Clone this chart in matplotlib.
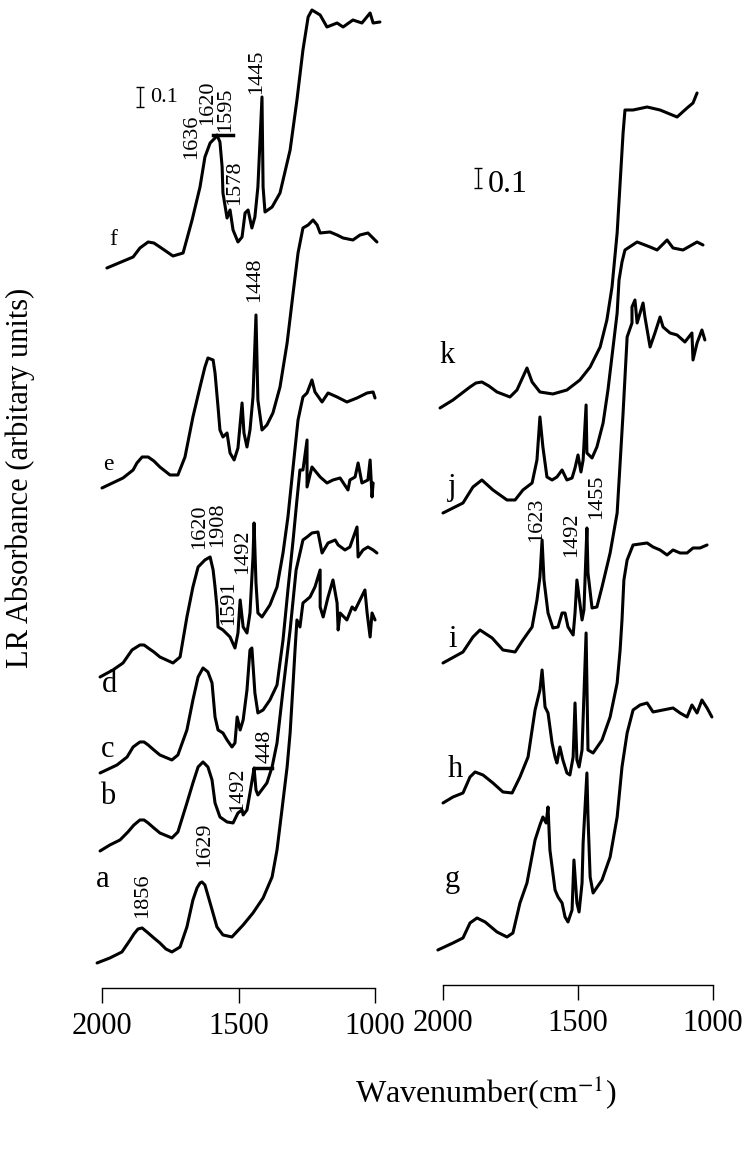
import matplotlib.pyplot as plt

plt.rcParams['font.family'] = ['Liberation Serif', 'DejaVu Serif']
plt.rcParams['mathtext.fontset'] = 'stix'

# Left panel spectra (wavenumber in cm-1, stacked absorbance)
a_wn = [2018, 1971, 1927, 1897, 1883, 1868, 1853, 1831, 1810, 1788, 1766, 1744, 1714, 1689,
        1667, 1652, 1641, 1634, 1623, 1604, 1579, 1557, 1524, 1483, 1447, 1410,
        1377, 1359, 1341, 1322, 1311, 1300, 1293, 1286, 1275, 1264,
        1238, 1220, 1201, 1201, 1190, 1172, 1154, 1139, 1135, 1128,
        1103, 1084, 1073, 1055, 1037, 1029, 1018, 1011, 1000]
a_abs = [0.185, 0.21, 0.24, 0.30, 0.33, 0.355, 0.36, 0.335, 0.31, 0.285, 0.255, 0.24, 0.265, 0.365,
         0.50, 0.56, 0.585, 0.59, 0.575, 0.485, 0.365, 0.325, 0.315, 0.375, 0.435, 0.51,
         0.615, 0.75, 0.95, 1.165, 1.335, 1.585, 1.75, 1.90, 1.865, 1.985,
         2.015, 2.065, 2.15, 1.965, 1.915, 2.015, 2.10, 1.985, 1.85, 1.935,
         1.90, 1.965, 1.95, 2.00, 2.05, 1.935, 1.815, 1.935, 1.90]

b_wn = [2007, 1971, 1934, 1905, 1883, 1861, 1846, 1831, 1810, 1788, 1744, 1722, 1689,
        1667, 1648, 1630, 1612, 1597, 1586, 1568, 1542, 1520, 1502,
        1487, 1483, 1469, 1458, 1447, 1443, 1436, 1429, 1396, 1377,
        1359, 1337, 1311, 1289, 1264, 1249, 1231, 1209, 1194, 1172,
        1146, 1135, 1110, 1092, 1066, 1062, 1044, 1026, 1007, 993]
b_abs = [0.745, 0.775, 0.80, 0.84, 0.875, 0.90, 0.90, 0.885, 0.86, 0.835, 0.81, 0.84, 0.985,
         1.085, 1.165, 1.19, 1.165, 1.10, 0.985, 0.915, 0.89, 0.885, 0.935,
         0.95, 0.925, 0.95, 1.035, 1.125, 1.16, 1.05, 1.025, 1.085, 1.165,
         1.285, 1.55, 1.85, 2.15, 2.30, 2.315, 2.335, 2.34, 2.235, 2.285,
         2.30, 2.275, 2.25, 2.265, 2.365, 2.215, 2.25, 2.265, 2.25, 2.235]

c_wn = [2007, 1945, 1908, 1886, 1861, 1846, 1831, 1810, 1788, 1744, 1722, 1689,
        1667, 1648, 1630, 1612, 1597, 1586, 1575, 1557, 1542, 1524,
        1513, 1505, 1494, 1483, 1469, 1458, 1451, 1440, 1429, 1410,
        1385, 1359, 1337, 1319, 1300, 1286, 1275, 1264, 1249, 1249,
        1231, 1201, 1176, 1154, 1128, 1099, 1092, 1073, 1062, 1048,
        1026, 1018, 1011, 1007]
c_abs = [1.135, 1.175, 1.215, 1.265, 1.29, 1.29, 1.275, 1.25, 1.225, 1.20, 1.225, 1.35,
         1.50, 1.615, 1.66, 1.64, 1.585, 1.415, 1.35, 1.335, 1.30, 1.265,
         1.285, 1.415, 1.35, 1.40, 1.55, 1.75, 1.76, 1.535, 1.435, 1.45,
         1.50, 1.575, 1.80, 2.05, 2.30, 2.50, 2.65, 2.65, 2.80, 2.565,
         2.665, 2.615, 2.585, 2.60, 2.61, 2.55, 2.60, 2.615, 2.685, 2.585,
         2.60, 2.70, 2.515, 2.585]

d_wn = [2007, 1960, 1923, 1890, 1861, 1846, 1831, 1810, 1788, 1740, 1714, 1689,
        1667, 1648, 1623, 1604, 1593, 1586, 1579, 1575, 1557, 1531,
        1513, 1502, 1494, 1483, 1469, 1458, 1447, 1443, 1436, 1429,
        1414, 1385, 1359, 1337, 1319, 1300, 1282, 1264, 1249, 1231,
        1220, 1194, 1172, 1139, 1103, 1066, 1029, 1007, 1000]
d_abs = [1.615, 1.65, 1.685, 1.75, 1.775, 1.775, 1.76, 1.74, 1.715, 1.685, 1.715, 1.915,
         2.065, 2.165, 2.20, 2.215, 2.15, 2.065, 1.965, 1.865, 1.85, 1.815,
         1.76, 1.835, 2.00, 1.865, 1.835, 1.935, 2.215, 2.385, 2.085, 1.935,
         1.915, 1.975, 2.065, 2.235, 2.415, 2.665, 2.90, 3.015, 3.035, 3.10,
         3.04, 2.99, 3.035, 3.015, 2.99, 3.01, 3.035, 3.04, 3.01]

e_wn = [2000, 1923, 1886, 1872, 1853, 1831, 1810, 1788, 1751, 1722, 1696, 1667,
        1641, 1623, 1612, 1593, 1586, 1575, 1568, 1557, 1542, 1531,
        1516, 1502, 1487, 1480, 1469, 1458, 1447, 1436, 1429, 1414,
        1396, 1374, 1348, 1322, 1300, 1282, 1264, 1245, 1227, 1212,
        1201, 1165, 1139, 1117, 1081, 1055, 1026, 993]
e_abs = [2.56, 2.61, 2.65, 2.685, 2.715, 2.715, 2.695, 2.665, 2.625, 2.625, 2.715, 2.915,
         3.065, 3.165, 3.21, 3.20, 3.135, 2.965, 2.85, 2.815, 2.835, 2.735,
         2.70, 2.76, 2.985, 2.835, 2.765, 2.85, 3.015, 3.425, 3.00, 2.85,
         2.875, 2.935, 3.065, 3.285, 3.535, 3.735, 3.86, 3.875, 3.90, 3.875,
         3.835, 3.84, 3.825, 3.81, 3.80, 3.825, 3.835, 3.79]

f_wn = [1982, 1886, 1861, 1831, 1810, 1788, 1740, 1703, 1670, 1641, 1623, 1604,
        1586, 1579, 1568, 1560, 1557, 1542, 1531, 1520, 1502, 1487,
        1476, 1465, 1451, 1440, 1429, 1414, 1410, 1403, 1377, 1348,
        1311, 1286, 1264, 1245, 1231, 1201, 1176, 1139, 1117, 1081,
        1048, 1018, 1007, 982]
f_abs = [3.66, 3.715, 3.76, 3.79, 3.785, 3.765, 3.72, 3.735, 3.90, 4.065, 4.215, 4.285,
         4.31, 4.325, 4.29, 4.165, 4.035, 3.91, 3.95, 3.85, 3.79, 3.815,
         3.935, 3.95, 3.86, 3.915, 4.065, 4.515, 4.065, 3.94, 3.965, 4.035,
         4.25, 4.50, 4.75, 4.915, 4.95, 4.925, 4.865, 4.885, 4.865, 4.90,
         4.885, 4.935, 4.885, 4.89]

# Right panel spectra
g_wn = [2019, 1963, 1926, 1900, 1874, 1844, 1800, 1763, 1741, 1715,
        1689, 1659, 1641, 1630, 1618, 1611, 1604, 1585, 1574, 1559,
        1548, 1537, 1522, 1515, 1504, 1496, 1485, 1481, 1467, 1463,
        1455, 1444, 1411, 1381, 1355, 1337, 1318, 1296, 1270, 1244,
        1222, 1185, 1148, 1122, 1096, 1078, 1059, 1041, 1022, 1004]
g_abs = [0.25, 0.285, 0.31, 0.385, 0.41, 0.39, 0.34, 0.315, 0.335, 0.485,
         0.585, 0.80, 0.875, 0.915, 0.885, 0.965, 0.75, 0.55, 0.515, 0.485,
         0.415, 0.39, 0.45, 0.70, 0.485, 0.44, 0.585, 0.785, 1.135, 0.915,
         0.615, 0.535, 0.60, 0.715, 0.915, 1.165, 1.335, 1.45, 1.475, 1.485,
         1.44, 1.45, 1.46, 1.435, 1.415, 1.475, 1.435, 1.50, 1.46, 1.415]

h_wn = [2000, 1963, 1926, 1900, 1881, 1852, 1815, 1778, 1744, 1715,
        1685, 1659, 1641, 1633, 1622, 1611, 1596, 1585, 1578, 1567,
        1556, 1541, 1530, 1518, 1511, 1504, 1496, 1485, 1470, 1463,
        1444, 1411, 1381, 1355, 1344, 1337, 1330, 1318, 1296, 1244,
        1222, 1196, 1170, 1148, 1122, 1096, 1074, 1048, 1022]
h_abs = [0.985, 1.015, 1.035, 1.115, 1.14, 1.125, 1.085, 1.04, 1.035, 1.115,
         1.215, 1.45, 1.55, 1.65, 1.465, 1.435, 1.285, 1.215, 1.185, 1.265,
         1.20, 1.135, 1.125, 1.215, 1.485, 1.20, 1.165, 1.25, 1.835, 1.25,
         1.235, 1.30, 1.415, 1.585, 1.75, 1.90, 2.10, 2.20, 2.275, 2.285,
         2.265, 2.25, 2.225, 2.25, 2.235, 2.235, 2.26, 2.26, 2.275]

i_wn = [2000, 1926, 1889, 1863, 1818, 1778, 1733, 1704, 1670, 1652,
        1641, 1633, 1626, 1611, 1593, 1574, 1559, 1548, 1537, 1518,
        1511, 1504, 1496, 1485, 1478, 1467, 1463, 1448, 1430, 1411,
        1381, 1355, 1344, 1333, 1318, 1300, 1300, 1289, 1281, 1259,
        1252, 1233, 1215, 1196, 1185, 1159, 1133, 1104, 1078, 1074,
        1059, 1041, 1030]
i_abs = [1.685, 1.74, 1.815, 1.85, 1.81, 1.75, 1.74, 1.80, 1.865, 2.00,
         2.115, 2.30, 2.10, 1.935, 1.86, 1.865, 1.935, 1.935, 1.865, 1.825,
         1.935, 2.10, 2.015, 1.90, 1.95, 2.36, 2.135, 1.96, 1.965, 2.065,
         2.235, 2.435, 2.685, 2.935, 3.315, 3.385, 3.465, 3.50, 3.385, 3.485,
         3.415, 3.265, 3.335, 3.415, 3.365, 3.335, 3.325, 3.29, 3.335, 3.20,
         3.285, 3.35, 3.30]

j_wn = [2000, 1926, 1889, 1856, 1815, 1763, 1733, 1704, 1670, 1652,
        1641, 1630, 1615, 1596, 1578, 1559, 1541, 1522, 1511, 1500,
        1489, 1481, 1470, 1467, 1448, 1430, 1407, 1389, 1370, 1355,
        1348, 1337, 1326, 1281, 1233, 1207, 1170, 1148, 1111, 1059,
        1037]
j_abs = [2.435, 2.485, 2.565, 2.60, 2.55, 2.50, 2.50, 2.55, 2.585, 2.70,
         2.915, 2.765, 2.615, 2.60, 2.615, 2.65, 2.60, 2.61, 2.66, 2.725,
         2.64, 2.70, 2.975, 2.735, 2.71, 2.765, 2.885, 3.05, 3.265, 3.435,
         3.60, 3.69, 3.75, 3.79, 3.765, 3.75, 3.80, 3.76, 3.75, 3.79,
         3.775]

k_wn = [2011, 1963, 1900, 1878, 1856, 1830, 1800, 1752, 1726, 1689, 1670, 1641,
        1593, 1541, 1493, 1455, 1418, 1393, 1374, 1355, 1344, 1333,
        1326, 1296, 1244, 1196, 1133, 1096, 1074, 1059]
k_abs = [2.96, 3.00, 3.065, 3.085, 3.09, 3.07, 3.04, 3.015, 3.05, 3.16, 3.09, 3.04,
         3.03, 3.05, 3.10, 3.165, 3.265, 3.40, 3.565, 3.835, 4.085, 4.335,
         4.45, 4.45, 4.465, 4.45, 4.415, 4.46, 4.485, 4.535]

# Curve letters: (label, wavenumber, absorbance, fontsize)
left_letters = [('a', 1996, 0.60, 22), ('b', 1978, 1.015, 22), ('c', 1978, 1.25, 22),
                ('d', 1971, 1.575, 22), ('e', 1978, 2.675, 17), ('f', 1960, 3.80, 17)]
right_letters = [('g', 1967, 0.60, 22), ('h', 1956, 1.15, 22), ('i', 1963, 1.80, 22),
                 ('j', 1967, 2.56, 22), ('k', 1985, 3.22, 22)]

# Peak annotations (rotated)
left_peaks = [('1856', 1853, 0.52), ('1629', 1623, 0.775), ('1492', 1505, 1.05),
              ('448', 1403, 1.27), ('1620', 1641, 2.365), ('1908', 1575, 2.375),
              ('1492', 1484, 2.24), ('1591', 1538, 1.985), ('1448', 1440, 3.60),
              ('1445', 1432, 4.64), ('1620', 1612, 4.485), ('1595', 1549, 4.45),
              ('1636', 1670, 4.315), ('1578', 1513, 4.085)]
right_peaks = [('1623', 1652, 2.40), ('1492', 1522, 2.325), ('1455', 1430, 2.515)]


def style_axis(ax, ymin):
    ax.set_xlim(2020, 970)
    ax.set_ylim(ymin, 5.0)
    for side in ['top', 'right', 'left']:
        ax.spines[side].set_visible(False)
    ax.spines['bottom'].set_bounds(2000, 1000)
    ax.spines['bottom'].set_linewidth(1.0)
    ax.set_yticks([])
    ax.set_xticks([2000, 1500, 1000])
    ax.set_xticklabels(['2000', '1500', '1000'])
    ax.tick_params(axis='x', direction='out', length=11, width=1.0, labelsize=22, pad=6)
    ax.patch.set_visible(False)


def draw_curve(ax, wn, ab):
    ax.plot(wn, ab, color='black', lw=2.2, solid_joinstyle='round',
            solid_capstyle='round', clip_on=False)


fig = plt.figure(figsize=(7.46, 11.5), dpi=100)
ax1 = fig.add_axes([0.1294, 0.1409, 0.3843, 0.8591])
ax2 = fig.add_axes([0.5866, 0.1435, 0.3800, 0.8565])

style_axis(ax1, 0.06)
style_axis(ax2, 0.075)

# Left panel
for wn, ab in [(a_wn, a_abs), (b_wn, b_abs), (c_wn, c_abs),
               (d_wn, d_abs), (e_wn, e_abs), (f_wn, f_abs)]:
    draw_curve(ax1, wn, ab)

# small marker bars used for the peak labels
ax1.plot([1593, 1520], [4.325, 4.325], color='black', lw=2.5)
ax1.plot([1440, 1377], [1.16, 1.16], color='black', lw=2.5)

for lab, x, y, fs in left_letters:
    ax1.text(x, y, lab, fontsize=fs, ha='center', va='center')
for lab, x, y in left_peaks:
    ax1.text(x, y, lab, fontsize=16, rotation=90, ha='center', va='center')

# scale bar
ax1.errorbar([1861], [4.515], yerr=0.05, color='black', lw=1.0, capsize=3, capthick=1.0)
ax1.text(1824, 4.51, '0.1', fontsize=16, ha='left', va='center')

# Right panel
for wn, ab in [(g_wn, g_abs), (h_wn, h_abs), (i_wn, i_abs),
               (j_wn, j_abs), (k_wn, k_abs)]:
    draw_curve(ax2, wn, ab)

for lab, x, y, fs in right_letters:
    ax2.text(x, y, lab, fontsize=fs, ha='center', va='center')
for lab, x, y in right_peaks:
    ax2.text(x, y, lab, fontsize=16, rotation=90, ha='center', va='center')

ax2.errorbar([1870], [4.11], yerr=0.05, color='black', lw=1.0, capsize=3, capthick=1.0)
ax2.text(1833, 4.075, '0.1', fontsize=23, ha='left', va='center')

# axis titles
fig.text(0.0268, 0.5843, 'LR Absorbance (arbitary units)', fontsize=22,
         rotation=90, ha='center', va='center')
fig.text(0.6515, 0.0504, r'Wavenumber(cm$^{-1}$)', fontsize=23, ha='center', va='center')

fig.savefig('out.png', dpi=100)
